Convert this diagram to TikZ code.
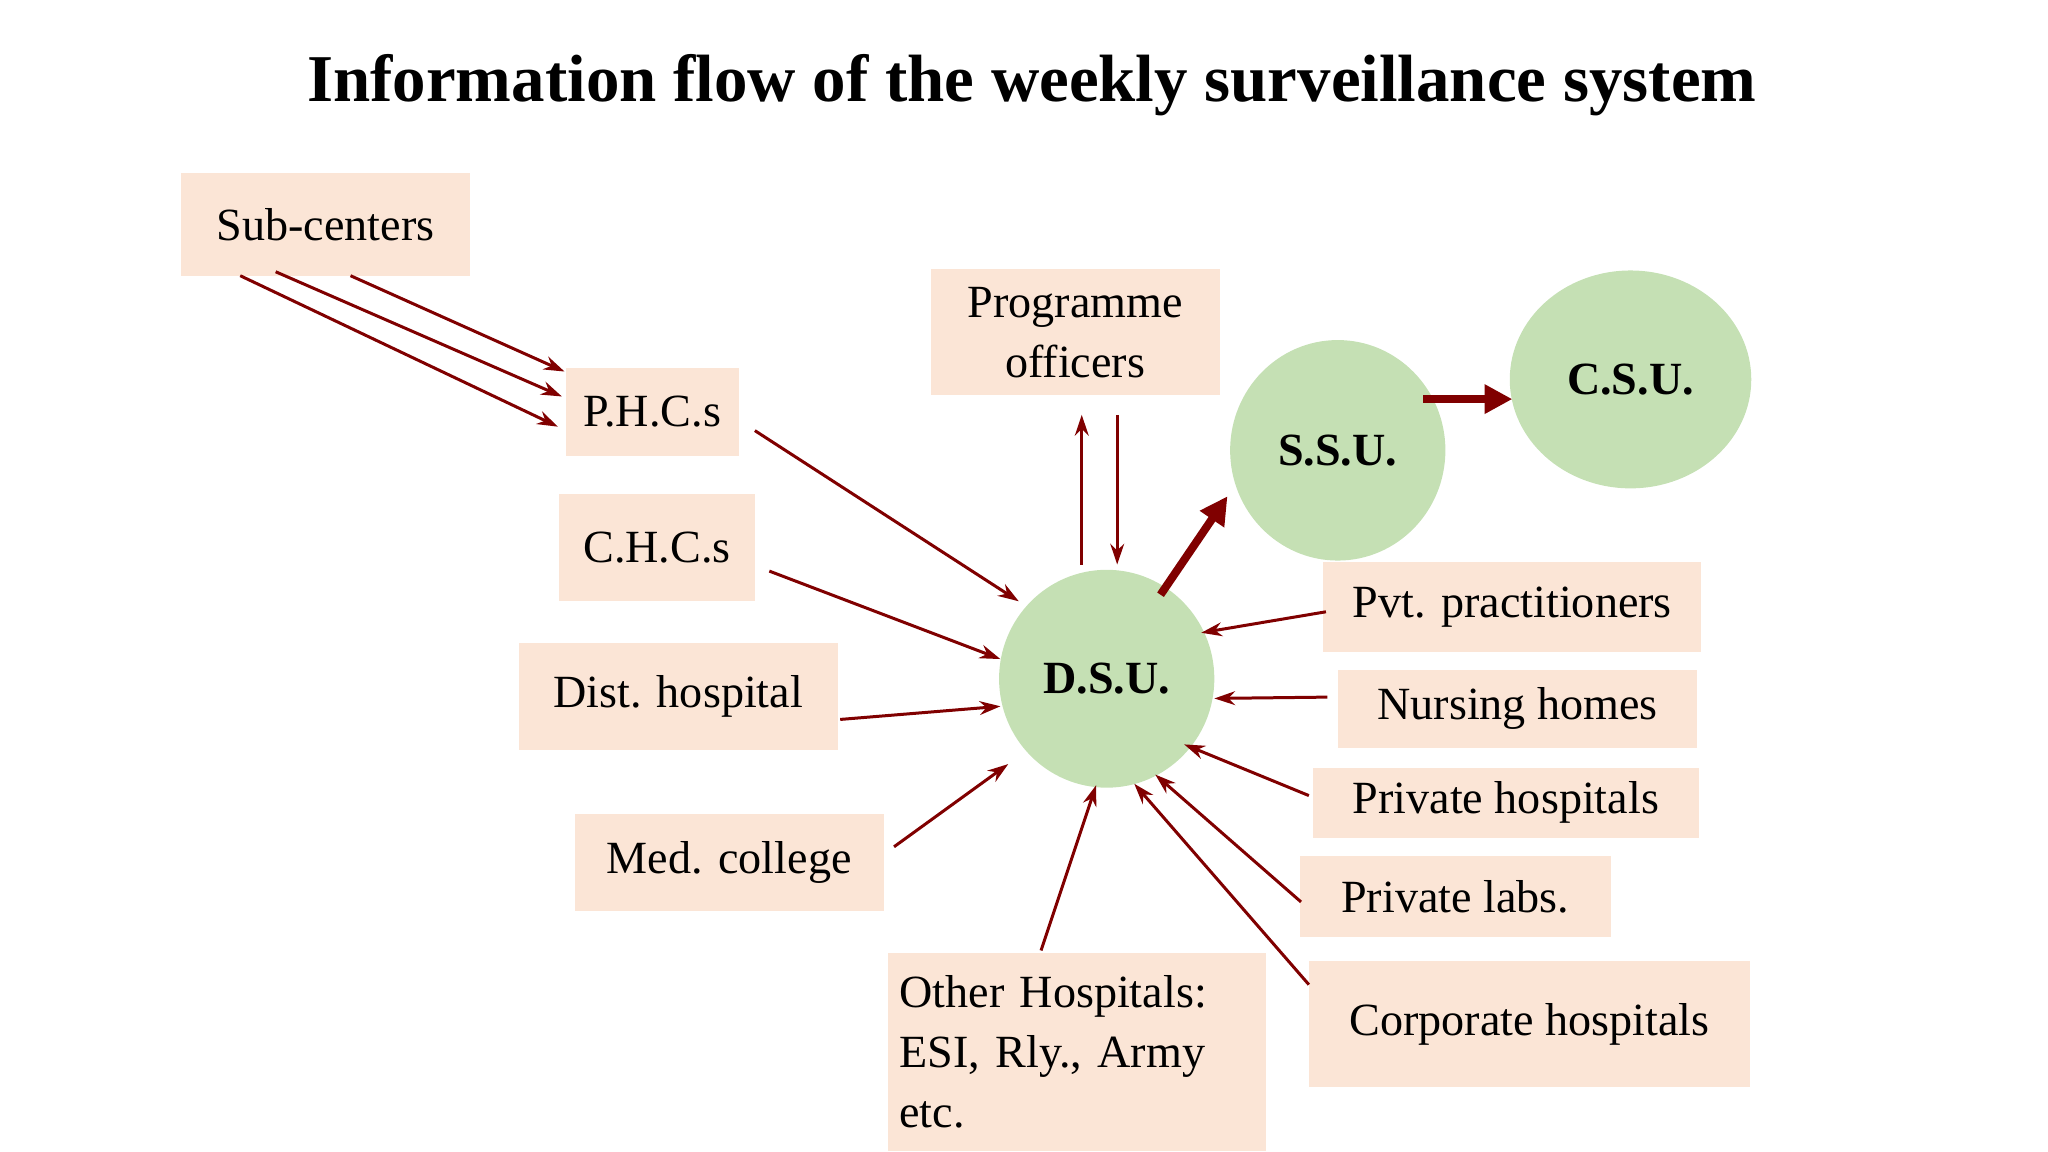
\documentclass[tikz,border=0pt]{standalone}
\usepackage{fontspec}
\setmainfont{Liberation Serif}
\usetikzlibrary{shapes.geometric,arrows.meta}
\definecolor{peach}{HTML}{FBE5D6}
\definecolor{grn}{HTML}{C5E0B4}
\definecolor{dred}{HTML}{800000}
\begin{document}
\begin{tikzpicture}[x=0.02cm,y=-0.02cm,
  bx/.style={fill=peach,inner sep=0pt,font=\fontsize{20}{26}\selectfont},
  circ/.style={ellipse,fill=grn,inner sep=0pt,font=\fontsize{20}{24}\selectfont\bfseries},
  ar/.style={draw=dred,line width=1.3pt,-{Stealth[length=9pt,width=6pt]}},
  tar/.style={draw=dred,line width=3.5pt,-{Triangle[length=12pt,width=12pt]}}]
\useasboundingbox (0,0) rectangle (1560,877);
\node[font=\fontsize{29}{34}\selectfont\bfseries] (title) at (786,65) {Information flow of the weekly surveillance system};
\newcommand{\pbox}[6]{\node[bx,minimum width=#4*0.02cm-#2*0.02cm,minimum height=#5*0.02cm-#3*0.02cm] (#1) at ({(#2+#4)/2},{(#3+#5)/2}) {#6};}
\pbox{sub}{138}{132}{358}{210}{Sub-centers}
\pbox{phc}{431}{280}{563}{347}{P.H.C.s}
\pbox{chc}{426}{376}{575}{458}{C.H.C.s}
\pbox{dist}{395}{490}{638}{571}{Dist. hospital}
\pbox{med}{438}{620}{673}{694}{Med. college}
\node[bx,minimum width=5.76cm,minimum height=3.02cm,text width=5.4cm,align=left] (oth) at (820,801.5) {Other Hospitals:\\ESI, Rly., Army\\etc.};
\node[bx,minimum width=4.4cm,minimum height=1.92cm,align=center] (prog) at (819,253) {Programme\\officers};
\pbox{pvt}{1008}{428}{1296}{497}{Pvt. practitioners}
\pbox{nur}{1019}{510}{1293}{570}{Nursing homes}
\pbox{phos}{1000}{585}{1294}{638}{Private hospitals}
\pbox{lab}{990}{652}{1227}{714}{Private labs.}
\pbox{corp}{997}{732}{1333}{828}{Corporate hospitals}
\node[circ,minimum width=3.28cm,minimum height=3.32cm] (dsu) at (843,517) {D.S.U.};
\node[circ,minimum width=3.28cm,minimum height=3.36cm] (ssu) at (1019,343) {S.S.U.};
\node[circ,minimum width=3.68cm,minimum height=3.32cm] (csu) at (1242,289) {C.S.U.};
\draw[ar] (183,210) -- (425,325);
\draw[ar] (210,207) -- (428,302);
\draw[ar] (267,210) -- (430,283);
\draw[ar] (575,328) -- (776,458);
\draw[ar] (586,435) -- (762,502);
\draw[ar] (640,548) -- (762,538);
\draw[ar] (681,645) -- (768,582);
\draw[ar] (793,724) -- (835,598);
\draw[ar] (824,430) -- (824,316);
\draw[ar] (851,316) -- (851,430);
\draw[tar] (884,453) -- (935,378);
\draw[tar] (1084,304) -- (1152,304);
\draw[ar] (1010,466) -- (915,482);
\draw[ar] (1011,531) -- (925,532);
\draw[ar] (997,606) -- (902,567);
\draw[ar] (991,687) -- (880,590);
\draw[ar] (997,750) -- (864,597);
\end{tikzpicture}
\end{document}
